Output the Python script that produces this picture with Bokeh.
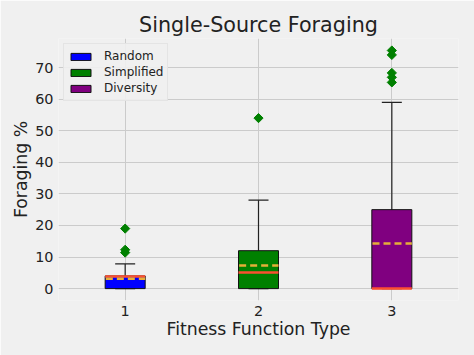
import numpy as np
from bokeh.plotting import figure
from bokeh.models import ColumnDataSource, Range1d, FixedTicker, Legend, LegendItem
from bokeh.embed import file_html
from bokeh.resources import INLINE

# ---- data ----
categories = [1, 2, 3]
labels = ["Random", "Simplified", "Diversity"]
colors = ["#0000ff", "#008000", "#800080"]
q1 = [0.0, 0.0, 0.0]
q3 = [4.0, 12.0, 25.0]
medians = [3.8, 5.1, 0.0]
means = [3.1, 7.3, 14.3]
whisker_low = [0.0, 0.0, 0.0]
whisker_high = [7.8, 28.0, 59.0]
outliers = [[19.0, 12.3, 11.4], [54.0], [75.4, 74.0, 68.3, 66.9, 65.3]]
x_ticks = [1, 2, 3]
y_ticks = [0, 10, 20, 30, 40, 50, 60, 70]

BOX_W = 0.3
CAP_W = 0.15
FONT = "DejaVu Sans"
BG = "#f0f0f0"

p = figure(width=474, height=355, output_backend="svg", toolbar_location=None,
           x_range=Range1d(0.5, 3.5), y_range=Range1d(-3.77, 79.2),
           min_border_left=58, min_border_right=16, min_border_top=38, min_border_bottom=55)
p.background_fill_color = BG
p.border_fill_color = BG
p.outline_line_color = None

p.title.text = "Single-Source Foraging"
p.title.align = "center"
p.title.text_font = FONT
p.title.text_font_size = "20.7px"
p.title.text_font_style = "normal"
p.title.text_color = "#222222"
p.title.standoff = 4

for ax in (p.xaxis[0], p.yaxis[0]):
    ax.axis_line_color = None
    ax.major_tick_line_color = None
    ax.minor_tick_line_color = None
    ax.major_tick_out = 0
    ax.major_tick_in = 0
    ax.minor_tick_out = 0
    ax.minor_tick_in = 0
    ax.major_label_text_font = FONT
    ax.major_label_text_font_size = "14.4px"
    ax.major_label_text_color = "#222222"
    ax.axis_label_text_font = FONT
    ax.axis_label_text_font_size = "17.3px"
    ax.axis_label_text_font_style = "normal"
    ax.axis_label_text_color = "#222222"
p.xaxis.ticker = FixedTicker(ticks=x_ticks)
p.yaxis.ticker = FixedTicker(ticks=y_ticks)
p.xaxis.axis_label = "Fitness Function Type"
p.yaxis.axis_label = "Foraging %"
p.xaxis.major_label_standoff = 5
p.yaxis.major_label_standoff = 5
p.xaxis.axis_label_standoff = 0
p.yaxis.axis_label_standoff = 1

p.xgrid.grid_line_color = "#cbcbcb"
p.ygrid.grid_line_color = "#cbcbcb"
p.xgrid.grid_line_width = 1
p.ygrid.grid_line_width = 1

src = ColumnDataSource(dict(x=categories, q1=q1, q3=q3, med=medians, mean=means,
                            lo=whisker_low, hi=whisker_high, color=colors, label=labels))

# whiskers
p.segment(x0="x", y0="q3", x1="x", y1="hi", source=src, line_color="#222222", line_width=1.2)
p.segment(x0="x", y0="lo", x1="x", y1="q1", source=src, line_color="#222222", line_width=1.2)
cx = np.array(categories, dtype=float)
p.segment(x0=cx - CAP_W / 2, y0=whisker_high, x1=cx + CAP_W / 2, y1=whisker_high,
          line_color="#222222", line_width=1.2)
p.segment(x0=cx - CAP_W / 2, y0=whisker_low, x1=cx + CAP_W / 2, y1=whisker_low,
          line_color="#222222", line_width=1.2)

# boxes
box_renderers = []
for i in range(3):
    r = p.vbar(x=[categories[i]], width=BOX_W, bottom=[q1[i]], top=[q3[i]],
               fill_color=colors[i], line_color="#111111", line_width=1)
    box_renderers.append(r)

# medians and means
p.segment(x0=cx - BOX_W / 2, y0=medians, x1=cx + BOX_W / 2, y1=medians,
          line_color="#fc4f30", line_width=2.5)
p.segment(x0=cx - BOX_W / 2 + 0.005, y0=means, x1=cx + BOX_W / 2, y1=means,
          line_color="#e5ae38", line_width=2.5, line_dash="7 4")

# outliers
ox, oy = [], []
for c, vals in zip(categories, outliers):
    for v in vals:
        ox.append(c)
        oy.append(v)
p.scatter(ox, oy, marker="square", angle=np.pi / 4, size=6.5,
          fill_color="#008000", line_color="#008000")

legend = Legend(items=[LegendItem(label=labels[i], renderers=[box_renderers[i]]) for i in range(3)],
                location="top_left")
legend.margin = 5
legend.padding = 4
legend.spacing = 0
legend.label_text_font = FONT
legend.label_text_font_size = "12px"
legend.label_text_color = "#222222"
legend.label_height = 16
legend.glyph_height = 9
legend.glyph_width = 25
legend.label_standoff = 11
legend.background_fill_color = BG
legend.background_fill_alpha = 0.9
legend.border_line_color = "#d8d8d8"
legend.border_line_width = 1
p.add_layout(legend)

open("out.html", "w").write(file_html(p, INLINE))
